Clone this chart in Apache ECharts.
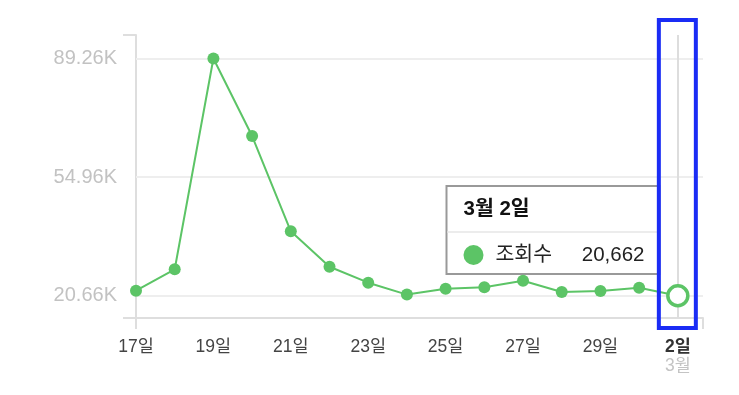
<!DOCTYPE html>
<html>
<head>
<meta charset="utf-8">
<script src="https://cdn.jsdelivr.net/npm/echarts@6/dist/echarts.min.js"></script>
<style>
html,body{margin:0;padding:0;background:#fff;}
#chart{width:739px;height:395px;}
</style>
</head>
<body>
<div id="chart"></div>
<script>
// ---- data ----
const months = [2,2,2,2,2,2,2,2,2,2,2,2,2,3,3];
const days   = [17,18,19,20,21,22,23,24,25,26,27,28,29,1,2];
const views  = [22140,28320,89260,66840,39300,29070,24450,21010,22710,23120,25030,21760,22050,23000,20662];
const seriesName = '조회수';
const xTickIndexes = [0,2,4,6,8,10,12,14];

const FONT = '"Liberation Sans","Noto Sans CJK KR",sans-serif';
const GREEN = '#5cc466';

const vMin = Math.min(...views), vMax = Math.max(...views);
const range = vMax - vMin;
const yMin = vMin - range*0.0936;
const yMax = vMax + range*0.099;
const yLabelVals = [vMin, (vMin+vMax)/2, vMax];
const lastIdx = views.length - 1;
const xMax = lastIdx + 0.65;

const seriesData = views.map((v,i)=> i===lastIdx
  ? {value:[i,v], symbolSize:20, itemStyle:{color:'#fff', borderColor:GREEN, borderWidth:3.5}}
  : {value:[i,v]});

const chart = echarts.init(document.getElementById('chart'), null, {renderer:'canvas'});
chart.setOption({
  animation:false,
  grid:{left:136, right:36, top:35, bottom:77},
  xAxis:{
    type:'value', min:0, max:xMax,
    axisLine:{show:true, lineStyle:{color:'#dedede', width:2}},
    axisTick:{show:true, customValues:[0, xMax], length:11, lineStyle:{color:'#dedede', width:2}},
    splitLine:{show:false},
    axisLabel:{
      customValues:xTickIndexes, margin:20,
      fontFamily:FONT, fontSize:17.5, color:'#444', lineHeight:19,
      formatter:function(v){
        const i = Math.round(v);
        if (i===lastIdx) return '{b|'+days[i]+'일}\n{m|'+months[i]+'월}';
        return days[i]+'일';
      },
      rich:{
        b:{fontFamily:FONT, fontSize:17.5, fontWeight:'bold', color:'#333', lineHeight:19},
        m:{fontFamily:FONT, fontSize:17.5, color:'#c4c4c4', lineHeight:19}
      }
    }
  },
  yAxis:{
    type:'value', min:yMin, max:yMax,
    axisLine:{show:true, lineStyle:{color:'#dedede', width:2}},
    axisTick:{show:true, customValues:[yMin,yMax], length:13, lineStyle:{color:'#dedede', width:2}},
    splitLine:{show:false},
    axisLabel:{
      customValues:yLabelVals, margin:19,
      fontFamily:FONT, fontSize:20, color:'#c2c2c2',
      formatter:function(v){ return (v/1000).toFixed(2)+'K'; }
    }
  },
  series:[{
    name:seriesName, type:'line', data:seriesData,
    symbol:'circle', symbolSize:12, showAllSymbol:true,
    lineStyle:{color:GREEN, width:2}, itemStyle:{color:GREEN},
    z:3,
    markLine:{
      silent:true, symbol:'none', label:{show:false},
      data:[
        {yAxis:yLabelVals[0], lineStyle:{color:'#eeeeee', width:2, type:'solid'}},
        {yAxis:yLabelVals[1], lineStyle:{color:'#eeeeee', width:2, type:'solid'}},
        {yAxis:yLabelVals[2], lineStyle:{color:'#eeeeee', width:2, type:'solid'}},
        {xAxis:lastIdx, lineStyle:{color:'#dddddd', width:2, type:'solid'}}
      ],
      z:1
    }
  }]
});

// annotations: tooltip box and highlight frame around the last point
const px = chart.convertToPixel({xAxisIndex:0, yAxisIndex:0}, [lastIdx, views[lastIdx]]);
const cx = px[0];
const tipL = 445, tipT = 185, tipW = cx - 20 - tipL, tipH = 88;
chart.setOption({
  graphic:[
    {type:'group', left:tipL, top:tipT, z:100, children:[
      {type:'rect', shape:{x:0,y:0,width:tipW,height:tipH}, style:{fill:'#fff', stroke:'#999', lineWidth:2}},
      {type:'text', x:17, y:23, style:{text:months[lastIdx]+'월 '+days[lastIdx]+'일', font:'bold 20.5px '+FONT, fill:'#111', verticalAlign:'middle'}},
      {type:'line', shape:{x1:1,y1:46,x2:tipW,y2:46}, style:{stroke:'#ececec', lineWidth:2}},
      {type:'circle', shape:{cx:27, cy:69, r:10}, style:{fill:GREEN}},
      {type:'text', x:49, y:69, style:{text:seriesName, font:'20.5px '+FONT, fill:'#222', verticalAlign:'middle'}},
      {type:'text', x:198, y:69, style:{text:views[lastIdx].toLocaleString('en-US'), font:'20.5px '+FONT, fill:'#222', verticalAlign:'middle', align:'right'}}
    ]},
    {type:'rect', z:110, shape:{x:cx-19, y:20, width:37, height:308}, style:{fill:'none', stroke:'#1a2cf5', lineWidth:4}}
  ]
});
</script>
</body>
</html>
